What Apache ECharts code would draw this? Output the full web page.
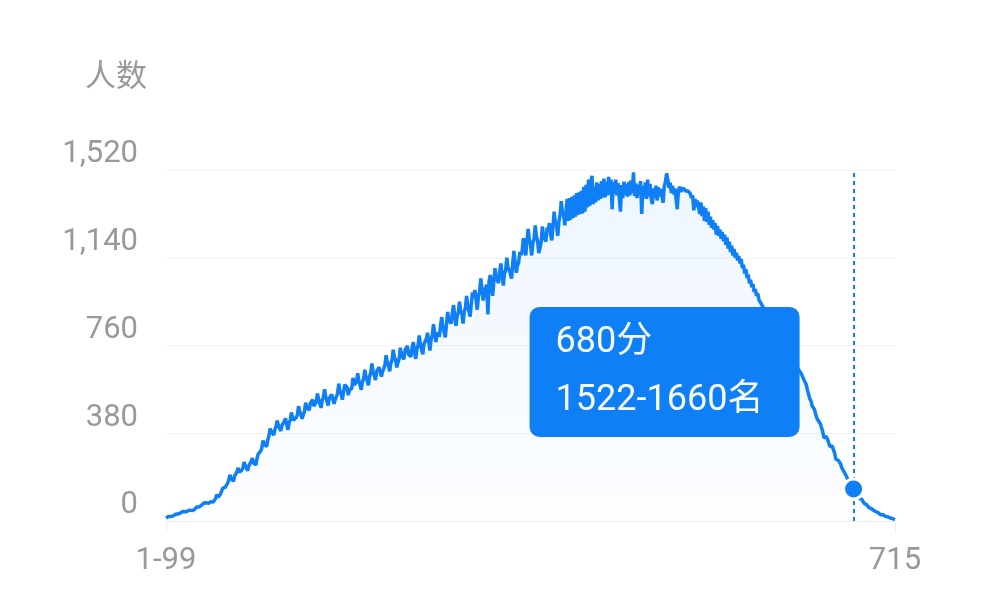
<!DOCTYPE html>
<html>
<head>
<meta charset="utf-8">
<script src="https://cdn.jsdelivr.net/npm/echarts@6/dist/echarts.min.js"></script>
<style>
html,body{margin:0;padding:0;background:#fff;}
#c{width:1000px;height:592px;}
</style>
</head>
<body>
<div id="c"></div>
<script>
// ---- data ----
const categories = ['1-99'];
for (let s = 100; s <= 715; s++) categories.push(String(s));

const counts = [
13, 17, 19, 19, 19, 20, 22, 26, 29, 30,
30, 30, 34, 38, 41, 40, 40, 39, 42, 44,
47, 47, 45, 44, 49, 56, 61, 62, 61, 62,
68, 73, 78, 79, 79, 80, 77, 80, 84, 83,
82, 86, 98, 115, 103, 105, 116, 115, 142, 144,
146, 149, 163, 176, 200, 185, 184, 172, 195, 204,
214, 230, 211, 211, 220, 231, 255, 239, 232, 218,
239, 247, 258, 272, 251, 255, 243, 273, 291, 295,
303, 317, 348, 334, 335, 322, 351, 368, 400, 388,
389, 372, 396, 410, 435, 413, 407, 390, 414, 422,
431, 445, 418, 395, 425, 437, 470, 446, 437, 437,
448, 459, 497, 474, 467, 443, 460, 475, 512, 491,
492, 480, 511, 507, 525, 497, 504, 516, 552, 525,
519, 490, 522, 536, 570, 537, 529, 500, 533, 539,
548, 541, 508, 526, 539, 553, 595, 562, 551, 525,
558, 590, 583, 579, 545, 566, 559, 575, 620, 589,
591, 602, 640, 607, 600, 568, 603, 616, 655, 625,
618, 588, 626, 643, 682, 647, 640, 610, 648, 657,
666, 661, 625, 647, 660, 675, 718, 686, 675, 648,
684, 696, 742, 709, 699, 665, 686, 702, 750, 718,
719, 700, 741, 736, 758, 721, 727, 712, 753, 775,
737, 702, 744, 761, 803, 763, 756, 722, 767, 778,
789, 815, 775, 738, 786, 804, 852, 817, 775, 803,
816, 798, 849, 882, 839, 835, 795, 850, 905, 870,
874, 855, 903, 935, 889, 845, 888, 902, 950, 909,
899, 855, 905, 924, 975, 931, 925, 885, 941, 990,
969, 1000, 957, 915, 972, 995, 1050, 1008, 955, 994,
1008, 1023, 895, 1039, 1065, 1024, 975, 1035, 1095, 1054,
1057, 1030, 1083, 1115, 1068, 1020, 1071, 1087, 1140, 1097,
1088, 1082, 1050, 1118, 1170, 1122, 1075, 1106, 1121, 1165,
1151, 1172, 1225, 1177, 1150, 1215, 1265, 1223, 1198, 1150,
1205, 1220, 1280, 1233, 1212, 1160, 1182, 1208, 1275, 1232,
1235, 1210, 1270, 1261, 1290, 1241, 1215, 1276, 1340, 1292,
1281, 1235, 1297, 1327, 1385, 1336, 1325, 1280, 1341, 1395,
1300, 1398, 1305, 1404, 1313, 1410, 1318, 1420, 1326, 1423,
1330, 1430, 1332, 1447, 1340, 1456, 1358, 1478, 1365, 1470,
1495, 1372, 1448, 1380, 1466, 1388, 1460, 1395, 1472, 1400,
1483, 1402, 1470, 1410, 1490, 1415, 1479, 1350, 1468, 1420,
1478, 1410, 1463, 1402, 1340, 1455, 1398, 1470, 1412, 1460,
1405, 1468, 1410, 1475, 1420, 1510, 1408, 1462, 1398, 1455,
1410, 1472, 1330, 1450, 1402, 1466, 1395, 1478, 1405, 1460,
1395, 1372, 1440, 1400, 1452, 1388, 1445, 1405, 1438, 1410,
1378, 1448, 1468, 1505, 1480, 1442, 1465, 1420, 1452, 1415,
1440, 1395, 1350, 1430, 1448, 1425, 1440, 1432, 1438, 1428,
1435, 1430, 1428, 1418, 1398, 1410, 1345, 1395, 1360, 1388,
1395, 1330, 1380, 1320, 1362, 1300, 1355, 1295, 1340, 1282,
1318, 1270, 1302, 1262, 1290, 1240, 1278, 1235, 1262, 1222,
1252, 1212, 1240, 1196, 1228, 1180, 1210, 1165, 1192, 1150,
1178, 1140, 1162, 1128, 1148, 1115, 1135, 1095, 1110, 1072,
1090, 1052, 1068, 1030, 1045, 1012, 1026, 992, 1004, 975,
986, 958, 966, 940, 948, 922, 928, 905, 910, 886,
890, 870, 874, 852, 856, 838, 840, 820, 822, 803,
800, 784, 781, 765, 760, 745, 742, 726, 722, 707,
703, 688, 686, 670, 667, 652, 650, 636, 634, 612,
602, 590, 568, 560, 529, 520, 498, 504, 483, 462,
445, 436, 442, 420, 403, 385, 360, 368, 366, 354,
338, 323, 316, 325, 309, 294, 268, 265, 263, 260,
248, 231, 226, 213, 210, 193, 186, 171, 164, 160,
146, 139, 129, 126, 121, 109, 99, 96, 93, 85,
76, 74, 71, 64, 58, 55, 54, 52, 46, 41,
40, 39, 35, 30, 27, 27, 27, 24, 20, 19,
18, 16, 13, 11, 10, 8, 6
];

const yTicks = [0, 380, 760, 1140, 1520];
const yAxisName = '人数';
const highlightScore = '680';
const tooltipLines = ['680分', '1522-1660名'];

// ---- chart ----
const BLUE = '#0f7ff5';
const GRAY = '#999999';
const FONT = "Roboto, 'Noto Sans CJK SC', sans-serif";
const chart = echarts.init(document.getElementById('c'), null, {renderer: 'canvas'});
const lastIdx = categories.length - 1;
const hiIdx = categories.indexOf(highlightScore);
const hiVal = counts[hiIdx];
const edgeOnly = (i) => i === 0 || i === lastIdx;

chart.setOption({
  animation: false,
  backgroundColor: '#ffffff',
  grid: {left: 166, right: 105, top: 170, bottom: 71},
  xAxis: {
    type: 'category',
    data: categories,
    boundaryGap: false,
    axisLine: {lineStyle: {color: '#eeeeee', width: 1}},
    axisTick: {show: true, interval: edgeOnly, length: 12, lineStyle: {color: '#eeeeee'}},
    axisLabel: {interval: edgeOnly, color: GRAY, fontSize: 31, fontFamily: FONT, margin: 25},
    splitLine: {show: false}
  },
  yAxis: {
    type: 'value',
    min: yTicks[0],
    max: yTicks[yTicks.length - 1],
    interval: yTicks[1] - yTicks[0],
    name: yAxisName,
    nameLocation: 'end',
    nameGap: 76,
    nameTextStyle: {color: GRAY, fontSize: 31, fontFamily: FONT, align: 'center', padding: [0, 100, 0, 0]},
    axisLine: {show: false},
    axisTick: {show: false},
    axisLabel: {color: GRAY, fontSize: 31, fontFamily: FONT, margin: 28,
      verticalAlign: 'bottom', padding: [0, 0, 0, 0],
      formatter: (v) => v.toLocaleString('en-US')},
    splitLine: {lineStyle: {color: '#f2f2f2', width: 1}}
  },
  series: [{
    type: 'line',
    data: counts,
    showSymbol: false,
    symbol: 'none',
    lineStyle: {color: BLUE, width: 3.5},
    areaStyle: {
      color: new echarts.graphic.LinearGradient(0, 0, 0, 1, [
        {offset: 0, color: 'rgba(15,127,245,0.10)'},
        {offset: 1, color: 'rgba(15,127,245,0.02)'}
      ])
    },
    markLine: {
      silent: true,
      symbol: 'none',
      label: {show: false},
      lineStyle: {color: BLUE, type: [4, 4], width: 2},
      data: [{xAxis: hiIdx}]
    },
    markPoint: {
      silent: true,
      symbol: 'circle',
      symbolSize: 20,
      label: {show: false},
      itemStyle: {color: BLUE, borderColor: '#ffffff', borderWidth: 3},
      data: [{coord: [hiIdx, hiVal]}]
    },
    z: 3
  }]
});

// tooltip-like box placed relative to the highlighted point
const p = chart.convertToPixel({xAxisIndex: 0, yAxisIndex: 0}, [hiIdx, hiVal]);
const boxW = 270, boxH = 130;
const bx = p[0] - 54 - boxW;
const by = p[1] - 52 - boxH;
chart.setOption({
  graphic: [{
    type: 'group',
    z: 100,
    children: [
      {type: 'rect', shape: {x: bx, y: by, width: boxW, height: boxH, r: 10},
       style: {fill: BLUE}},
      {type: 'text', x: bx + 26, y: by + 36,
       style: {text: tooltipLines[0], fill: '#ffffff', font: "36px " + FONT, verticalAlign: 'middle', align: 'left'}},
      {type: 'text', x: bx + 26, y: by + 94,
       style: {text: tooltipLines[1], fill: '#ffffff', font: "36px " + FONT, verticalAlign: 'middle', align: 'left'}}
    ]
  }]
});
</script>
</body>
</html>
